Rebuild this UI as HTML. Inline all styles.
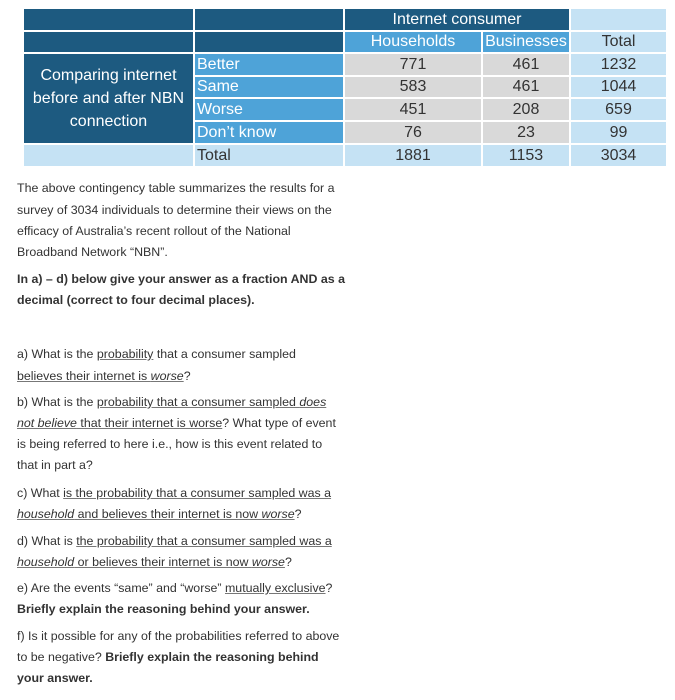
<!DOCTYPE html>
<html><head><meta charset="utf-8"><style>
body{margin:0;width:675px;height:700px;background:#fff;position:relative;overflow:hidden;font-family:"Liberation Sans",sans-serif}
.c{position:absolute;box-sizing:border-box;font-size:16px;display:flex;align-items:center;justify-content:center;border-right:2px solid #fff;border-bottom:2px solid #fff}
.d{background:#1d5a80;color:#fff}.m{background:#4ea3d8;color:#fff}.g{background:#d9d9d9;color:#333}.l{background:#c5e2f4;color:#333}
.left{justify-content:flex-start;padding-left:2px}
.t{position:absolute;left:17px;font-size:12.4px;color:#333;white-space:nowrap}
u{text-decoration-color:#777}
</style></head><body>
<div class="c d" style="left:24px;top:9px;width:171px;height:23px"></div>
<div class="c d" style="left:195px;top:9px;width:150px;height:23px"></div>
<div class="c d" style="left:345px;top:9px;width:226px;height:23px">Internet consumer</div>
<div class="c l" style="left:571px;top:9px;width:97px;height:23px"></div>
<div class="c d" style="left:24px;top:32px;width:171px;height:22px"></div>
<div class="c d" style="left:195px;top:32px;width:150px;height:22px"></div>
<div class="c m" style="left:345px;top:32px;width:138px;height:22px">Households</div>
<div class="c m" style="left:483px;top:32px;width:88px;height:22px">Businesses</div>
<div class="c l" style="left:571px;top:32px;width:97px;height:22px">Total</div>
<div class="c d" style="left:24px;top:54px;width:171px;height:91px;text-align:center;line-height:23px">Comparing internet<br>before and after NBN<br>connection</div>
<div class="c m left" style="left:195px;top:54px;width:150px;height:23px">Better</div>
<div class="c m left" style="left:195px;top:77px;width:150px;height:22px">Same</div>
<div class="c m left" style="left:195px;top:99px;width:150px;height:23px">Worse</div>
<div class="c m left" style="left:195px;top:122px;width:150px;height:23px">Don’t know</div>
<div class="c g" style="left:345px;top:54px;width:138px;height:23px">771</div>
<div class="c g" style="left:483px;top:54px;width:88px;height:23px">461</div>
<div class="c l" style="left:571px;top:54px;width:97px;height:23px">1232</div>
<div class="c g" style="left:345px;top:77px;width:138px;height:22px">583</div>
<div class="c g" style="left:483px;top:77px;width:88px;height:22px">461</div>
<div class="c l" style="left:571px;top:77px;width:97px;height:22px">1044</div>
<div class="c g" style="left:345px;top:99px;width:138px;height:23px">451</div>
<div class="c g" style="left:483px;top:99px;width:88px;height:23px">208</div>
<div class="c l" style="left:571px;top:99px;width:97px;height:23px">659</div>
<div class="c g" style="left:345px;top:122px;width:138px;height:23px">76</div>
<div class="c g" style="left:483px;top:122px;width:88px;height:23px">23</div>
<div class="c l" style="left:571px;top:122px;width:97px;height:23px">99</div>
<div class="c l" style="left:24px;top:145px;width:171px;height:23px"></div>
<div class="c l left" style="left:195px;top:145px;width:150px;height:23px">Total</div>
<div class="c l" style="left:345px;top:145px;width:138px;height:23px">1881</div>
<div class="c l" style="left:483px;top:145px;width:88px;height:23px">1153</div>
<div class="c l" style="left:571px;top:145px;width:97px;height:23px">3034</div>

<div class="t" style="top:181px">The above contingency table summarizes the results for a</div>
<div class="t" style="top:203px">survey of 3034 individuals to determine their views on the</div>
<div class="t" style="top:224px">efficacy of Australia’s recent rollout of the National</div>
<div class="t" style="top:245px">Broadband Network “NBN”.</div>
<div class="t" style="top:272px"><b>In a) – d) below give your answer as a fraction AND as a</b></div>
<div class="t" style="top:293px"><b>decimal (correct to four decimal places).</b></div>
<div class="t" style="top:347px">a) What is the <u>probability</u> that a consumer sampled</div>
<div class="t" style="top:369px"><u>believes their internet is <i>worse</i></u>?</div>
<div class="t" style="top:395px">b) What is the <u>probability that a consumer sampled <i>does</i></u></div>
<div class="t" style="top:416px"><u><i>not believe</i> that their internet is worse</u>? What type of event</div>
<div class="t" style="top:437px">is being referred to here i.e., how is this event related to</div>
<div class="t" style="top:458px">that in part a?</div>
<div class="t" style="top:486px">c) What <u>is the probability that a consumer sampled was a</u></div>
<div class="t" style="top:507px"><u><i>household</i> and believes their internet is now <i>worse</i></u>?</div>
<div class="t" style="top:534px">d) What is <u>the probability that a consumer sampled was a</u></div>
<div class="t" style="top:555px"><u><i>household</i> or believes their internet is now <i>worse</i></u>?</div>
<div class="t" style="top:581px">e) Are the events “same” and “worse” <u>mutually exclusive</u>?</div>
<div class="t" style="top:602px"><b>Briefly explain the reasoning behind your answer.</b></div>
<div class="t" style="top:629px">f) Is it possible for any of the probabilities referred to above</div>
<div class="t" style="top:650px">to be negative? <b>Briefly explain the reasoning behind</b></div>
<div class="t" style="top:671px"><b>your answer.</b></div>
</body></html>
